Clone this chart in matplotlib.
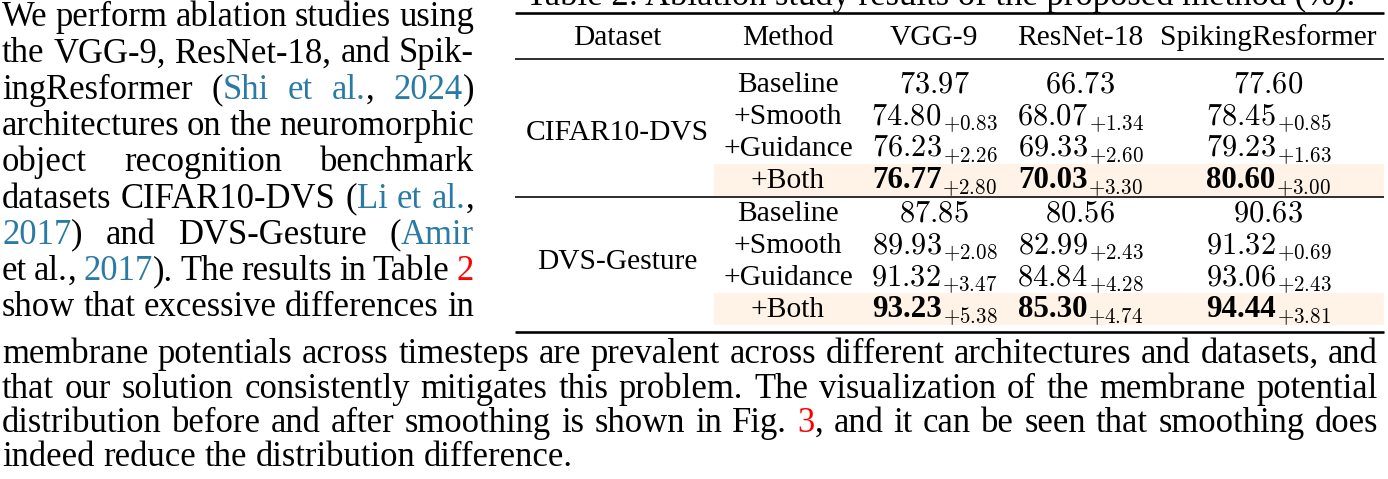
import matplotlib
matplotlib.use("Agg")
import matplotlib.pyplot as plt
from matplotlib.patches import Rectangle

W, H, DPI = 1388, 479, 100
PT = 72.0 / DPI  # points per pixel

plt.rcParams['mathtext.fontset'] = 'cm'
SERIF = 'Liberation Serif'
BLACK = '#000000'
BLUE = '#2a7aa6'
RED = '#ff0000'

# ---------------- data ----------------
caption = "Table 2: Ablation study results of the proposed method (%)."
header = ["Dataset", "Method", "VGG-9", "ResNet-18", "SpikingResformer"]
datasets = ["CIFAR10-DVS", "DVS-Gesture"]
methods = ["Baseline", "+Smooth", "+Guidance", "+Both"]
models = ["VGG-9", "ResNet-18", "SpikingResformer"]

vgg9_acc = [73.97, 74.80, 76.23, 76.77, 87.85, 89.93, 91.32, 93.23]
vgg9_gain = [None, 0.83, 2.26, 2.80, None, 2.08, 3.47, 5.38]
resnet18_acc = [66.73, 68.07, 69.33, 70.03, 80.56, 82.99, 84.84, 85.30]
resnet18_gain = [None, 1.34, 2.60, 3.30, None, 2.43, 4.28, 4.74]
spiking_acc = [77.60, 78.45, 79.23, 80.60, 90.63, 91.32, 93.06, 94.44]
spiking_gain = [None, 0.85, 1.63, 3.00, None, 0.69, 2.43, 3.81]
bold_method = "+Both"

# paragraph text: [..] = citation (blue), {..} = reference (red)
wrapped_lines = [
    "We perform ablation studies using",
    "the VGG-9, ResNet-18, and Spik-",
    "ingResformer ([Shi et al.], [2024])",
    "architectures on the neuromorphic",
    "object recognition benchmark",
    "datasets CIFAR10-DVS ([Li et al.],",
    "[2017]) and DVS-Gesture ([Amir",
    "et al.], [2017]). The results in Table {2}",
    "show that excessive differences in",
]
full_lines = [
    "membrane potentials across timesteps are prevalent across different architectures and datasets, and",
    "that our solution consistently mitigates this problem. The visualization of the membrane potential",
    "distribution before and after smoothing is shown in Fig. {3}, and it can be seen that smoothing does",
    "indeed reduce the distribution difference.",
]

# ---------------- figure ----------------
fig = plt.figure(figsize=(W / DPI, H / DPI), dpi=DPI)
ax = fig.add_axes([0, 0, 1, 1])
ax.set_xlim(0, W)
ax.set_ylim(H, 0)
ax.axis('off')
renderer = fig.canvas.get_renderer()


def measure(s, size_px, **kw):
    t = ax.text(0, 0, s, fontsize=size_px * PT, **kw)
    w = t.get_window_extent(renderer).width
    t.remove()
    return w


def parse(line):
    words, cur, buf = [], [], ['']
    color = [BLACK]

    def flush():
        if buf[0]:
            cur.append((buf[0], color[0]))
            buf[0] = ''
    for ch in line:
        if ch in '[{':
            flush(); color[0] = BLUE if ch == '[' else RED
        elif ch in ']}':
            flush(); color[0] = BLACK
        elif ch == ' ':
            flush()
            if cur:
                words.append(list(cur)); cur.clear()
        else:
            buf[0] += ch
    flush()
    if cur:
        words.append(list(cur))
    return words


BODY = 34.7
space_w = measure("n n", BODY, family=SERIF) - measure("nn", BODY, family=SERIF)


def draw_line(line, y, x0, x1, justify):
    words = parse(line)
    layouts = []
    total = 0
    for w in words:
        full = ''.join(t for t, c in w)
        offs = []
        pre = ''
        for t, c in w:
            offs.append(measure(pre, BODY, family=SERIF) if pre else 0.0)
            pre += t
        wd = measure(full, BODY, family=SERIF)
        layouts.append((w, offs, wd))
        total += wd
    if justify and len(words) > 1:
        gap = (x1 - x0 - total) / (len(words) - 1)
    else:
        gap = space_w
    x = x0
    for w, offs, wd in layouts:
        for (t, c), o in zip(w, offs):
            ax.text(x + o, y, t, color=c, fontsize=BODY * PT, family=SERIF,
                    ha='left', va='baseline')
        x += wd + gap


X0 = 2.0
for i, line in enumerate(wrapped_lines):
    draw_line(line, 26.0 + i * 36.3, X0, 474, True)
for j, line in enumerate(full_lines):
    draw_line(line, 363.0 + j * 34.5, X0, 1378, j < len(full_lines) - 1)

# ---------------- table ----------------
TX0, TX1 = 515, 1384
TXT = 29.5
NUM = 30.5
BOLD = 31.0
SUB = 21.0
SUBSHIFT = 6.5
col_x = [617, 788, 934, 1080, 1268]
ax.text(941, 5, caption, fontsize=BODY * PT, family=SERIF, ha='center', va='baseline')


def rule(y, px):
    ax.plot([TX0, TX1], [y, y], color='k', lw=px * PT, solid_capstyle='butt')


rule(13, 2.6)
rule(59, 1.6)
rule(197, 1.6)
rule(331.5, 2.6)

for cx, h in zip(col_x, header):
    ax.text(cx, 45, h, fontsize=TXT * PT, family=SERIF, ha='center', va='baseline')

row_base = [92, 124, 156, 188, 221, 253, 285, 317]
accs = [vgg9_acc, resnet18_acc, spiking_acc]
gains = [vgg9_gain, resnet18_gain, spiking_gain]

for d, name in enumerate(datasets):
    y_mid = (row_base[4 * d] + row_base[4 * d + 3]) / 2.0
    ax.text(col_x[0], y_mid, name, fontsize=TXT * PT, family=SERIF, ha='center', va='baseline')

for r, yb in enumerate(row_base):
    m = methods[r % 4]
    if m == bold_method:
        ax.add_patch(Rectangle((714, yb - 24), TX1 - 714, 32, facecolor=(1.0, 0.95, 0.90),
                               edgecolor='none', zorder=0))
    ax.text(col_x[1], yb, m, fontsize=TXT * PT, family=SERIF, ha='center', va='baseline')
    for c in range(3):
        v = accs[c][r]
        g = gains[c][r]
        main = f"{v:.2f}"
        if m == bold_method:
            kw_main = dict(family=SERIF, fontweight='bold')
            s_main = main
            size_main = BOLD
        else:
            kw_main = {}
            s_main = f"${main}$"
            size_main = NUM
        wm = measure(s_main, size_main, **kw_main)
        if g is not None:
            s_sub = f"$+{g:.2f}$"
            ws = measure(s_sub, SUB)
        else:
            s_sub, ws = None, 0.0
        xl = col_x[2 + c] - (wm + ws) / 2.0
        ax.text(xl, yb, s_main, fontsize=size_main * PT, ha='left', va='baseline', **kw_main)
        if s_sub:
            ax.text(xl + wm + 1, yb + SUBSHIFT, s_sub, fontsize=SUB * PT, ha='left', va='baseline')

fig.savefig("out.png", dpi=DPI)
